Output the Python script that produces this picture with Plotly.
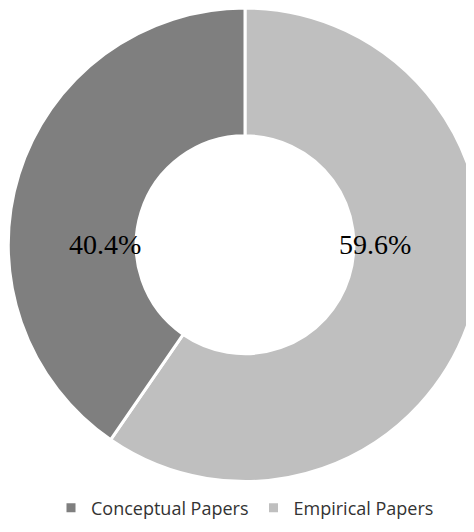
import plotly.graph_objects as go

labels = ["Empirical Papers", "Conceptual Papers"]
values = [59.6, 40.4]
colors = ["#bfbfbf", "#7f7f7f"]

fig = go.Figure(go.Pie(
    labels=labels,
    values=values,
    hole=0.46,
    sort=False,
    direction="clockwise",
    rotation=0,
    domain=dict(x=[0, 1], y=[0.11, 1]),
    marker=dict(colors=colors, line=dict(color="white", width=3)),
    textinfo="none",
    hoverinfo="label+percent",
))

# value labels placed horizontally at mid-ring, like the reference
for val, xpos in zip(values, [0.855, 0.125]):
    fig.add_annotation(
        x=xpos, y=0.555, xref="paper", yref="paper", showarrow=False,
        text=f"{val:.1f}%",
        font=dict(family="Liberation Serif", size=28, color="black"),
    )

fig.update_layout(
    width=474, height=532,
    margin=dict(l=0, r=0, t=0, b=0),
    paper_bgcolor="white",
    showlegend=True,
    legend=dict(
        orientation="h", x=0.5, xanchor="center", y=0.06, yanchor="middle",
        traceorder="reversed",
        font=dict(family="Open Sans", size=18, color="#333333"),
    ),
)

fig.write_html("out.html")
